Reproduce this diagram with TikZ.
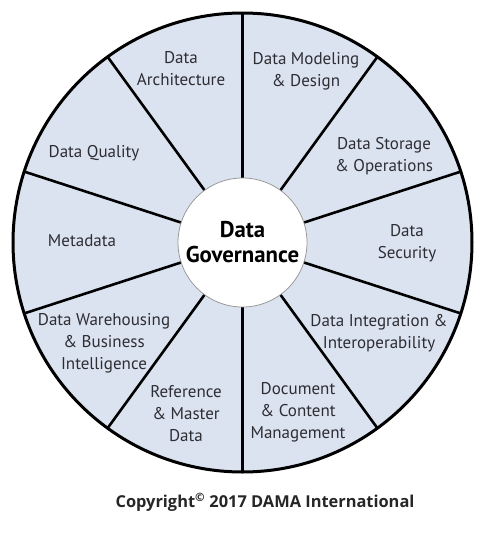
\documentclass[tikz,border=0pt]{standalone}
\usepackage{fontspec}
\setmainfont{PT Sans}
\newfontfamily\copyfont{Open Sans}
\usetikzlibrary{positioning}
\definecolor{wheelfill}{RGB}{220,227,240}
\definecolor{labelgray}{RGB}{45,45,52}
\tikzset{
  seg/.style={align=center, text=labelgray, inner sep=0pt, font=\fontsize{17}{22}\selectfont},
  hub/.style={circle, draw=gray!80, line width=0.8pt, fill=white, minimum size=129pt, inner sep=0pt, align=center, font=\bfseries\fontsize{22.8}{25}\selectfont}
}

\begin{document}
\begin{tikzpicture}[x=1pt,y=-1pt]
    \useasboundingbox (0,0) rectangle (493,539);
    \coordinate (c) at (242.5,242.5);
    \draw[line width=3pt, fill=wheelfill] (c) circle (229.5);
    % spokes between the hub and the rim
    \foreach \a in {18,54,...,342} \draw[line width=2.6pt] ([shift={(\a:60)}]c) -- ([shift={(\a:229.5)}]c);
    \node[hub] (gov) at (c) {Data\\Governance};
    \foreach \n/\x/\y/\t in {arch/181/68.5/{Data\\Architecture}, model/306/71/{Data Modeling\\\& Design},
        store/384/156/{Data Storage\\\& Operations}, sec/407/243/{Data\\Security},
        integ/379/333.5/{Data Integration \&\\Interoperability}, doc/298/412.5/{Document\\\& Content\\Management},
        ref/186/414/{Reference\\\& Master\\Data}, dw/104/343/{Data Warehousing\\\& Business\\Intelligence},
        meta/82/240.5/{Metadata}, qual/94/153.6/{Data Quality}}
        \node[seg] (\n) at (\x,\y) {\t};
    \node[font=\copyfont\bfseries\fontsize{16.4}{18}\selectfont, text=black!85] (copy) at (265,502) {Copyright\textsuperscript{\copyright} 2017 DAMA International};
\end{tikzpicture}
\end{document}
